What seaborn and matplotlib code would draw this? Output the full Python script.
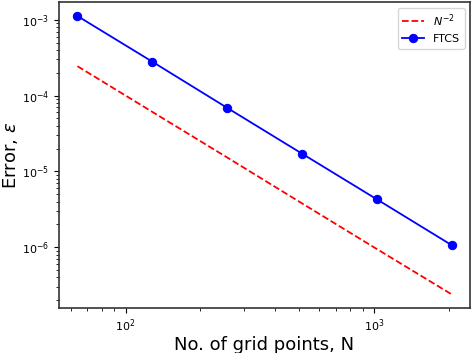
import matplotlib
matplotlib.use("Agg")

import matplotlib.pyplot as plt
import pandas as pd
import seaborn as sns

# grid sizes and errors
grid_points = [64, 128, 256, 512, 1024, 2048]
ftcs_error = [1.12e-3, 2.8e-4, 6.9e-5, 1.72e-5, 4.3e-6, 1.07e-6]
ref_slope = [2.44e-4, 6.1e-5, 1.53e-5, 3.8e-6, 9.5e-7, 2.4e-7]

df_ref = pd.DataFrame({"N": grid_points, "err": ref_slope})
df_ftcs = pd.DataFrame({"N": grid_points, "err": ftcs_error})

plt.rcParams["font.family"] = ["DejaVu Sans"]

fig = plt.figure(figsize=(4.74, 3.53), dpi=100)
ax = fig.add_axes([0.124, 0.127, 0.868, 0.867])

sns.lineplot(data=df_ref, x="N", y="err", ax=ax, color="red", linestyle="--",
             linewidth=1.3, label=r"$N^{-2}$")
sns.lineplot(data=df_ftcs, x="N", y="err", ax=ax, color="blue", marker="o",
             markersize=6, markeredgecolor="blue", linewidth=1.3, label="FTCS")

ax.set_xscale("log")
ax.set_yscale("log")
ax.margins(0.05)
ax.set_xlabel("No. of grid points, N", fontsize=13, labelpad=1)
ax.set_ylabel(r"Error, $\epsilon$", fontsize=13, labelpad=1)
ax.tick_params(labelsize=8)
for s in ax.spines.values():
    s.set_color("#333333")
    s.set_linewidth(1.2)
ax.legend(loc="upper right", fontsize=8)

fig.savefig("out.png", dpi=100)
